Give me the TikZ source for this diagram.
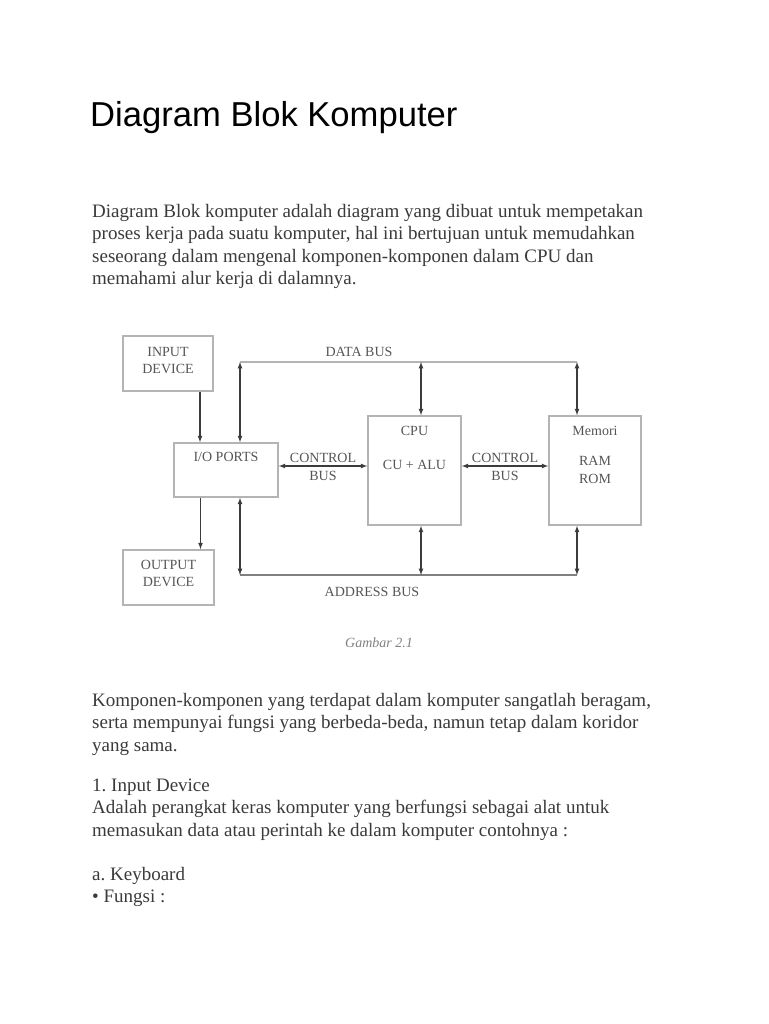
\documentclass[tikz,border=0pt]{standalone}
\usepackage{fontspec}
\setmainfont{Liberation Serif}
\newfontfamily\judulfont{Liberation Sans}
\usetikzlibrary{positioning}
\frenchspacing

\definecolor{boxgray}{HTML}{B4B4B4}
\definecolor{arrowgray}{HTML}{3C3C3C}
\definecolor{labelgray}{HTML}{555555}
\definecolor{textgray}{HTML}{3A3A3A}

\tikzset{
  blok/.style={draw=boxgray, line width=1.6pt, inner sep=0pt},
  lbl/.style={text=labelgray, font=\fontsize{14}{17.5}\selectfont, inner sep=0pt, align=center},
  databus/.style={draw=boxgray, line width=2pt},
  addrbus/.style={draw=gray, line width=1.4pt},
  tap/.style={<->, draw=arrowgray, line width=1.2pt},
  flow/.style={->, draw=arrowgray, line width=1.2pt},
  para/.style={anchor=base west, align=left, inner sep=0pt, text=textgray,
    font=\fontsize{19}{22.5}\selectfont},
}

\begin{document}
\begin{tikzpicture}[x=1pt,y=-1pt,>=latex]
	\useasboundingbox (0,0) rectangle (768,1024);
	% judul dan paragraf pembuka (base = baris terakhir)
	\node (judul) [anchor=base west, inner sep=0pt, font=\judulfont\fontsize{34.6}{40}\selectfont] at (90,126.7) {Diagram Blok Komputer};
	\node (p1) [para] at (92,284.5) {Diagram Blok komputer adalah diagram yang dibuat untuk mempetakan\\proses kerja pada suatu komputer, hal ini bertujuan untuk memudahkan\\seseorang dalam mengenal komponen-komponen dalam CPU dan\\memahami alur kerja di dalamnya.};
	% blok-blok
	\node (inp) [blok, minimum width=90pt, minimum height=55pt] at (168,363.5) {};
	\node (io) [blok, minimum width=104pt, minimum height=54pt] at (226,470) {};
	\node (out) [blok, minimum width=91pt, minimum height=55pt] at (168.5,577.5) {};
	\node (cpu) [blok, minimum width=93pt, minimum height=109pt] at (414.5,470.5) {};
	\node (mem) [blok, minimum width=92pt, minimum height=109pt] at (595,470.5) {};
	\node (inpT) [lbl] at ([yshift=3pt]inp.center) {INPUT\\DEVICE};
	\node (outT) [lbl] at ([yshift=4pt]out.center) {OUTPUT\\DEVICE};
	\node (ioT) [lbl, below=10pt of io.north] {I/O PORTS};
	\node (cpuT) [lbl, below=11pt of cpu.north] {CPU};
	\node (alu) [lbl, below=45pt of cpu.north] {CU + ALU};
	\node (memT) [lbl, below=11pt of mem.north] {Memori};
	\node (ram) [lbl, below=41pt of mem.north] {RAM\\ROM};
	% bus
	\coordinate (d1) at (240,362);
	\coordinate (d2) at (421,362);
	\coordinate (d3) at (577,362);
	\coordinate (a1) at (240,575);
	\coordinate (a2) at (421,575);
	\coordinate (a3) at (577,575);
	\draw[databus] (d1) -- (d3);
	\draw[addrbus] (a1) -- (a3);
	\node (dbus) [lbl] at (359,352) {DATA BUS};
	\node (abus) [lbl] at (372,592) {ADDRESS BUS};
	\draw[tap] (d1) -- (io.north -| d1);
	\draw[tap] (d2) -- (cpu.north -| d2);
	\draw[tap] (d3) -- (mem.north -| d3);
	\draw[tap] (io.south -| a1) -- (a1);
	\draw[tap] (cpu.south -| a2) -- (a2);
	\draw[tap] (mem.south -| a3) -- (a3);
	\draw[flow] ([xshift=32pt]inp.south) -- ([xshift=32pt]inp.south |- io.north);
	\draw[flow] ([xshift=32pt]out.north |- io.south) -- ([xshift=32pt]out.north);
	\draw[tap] ([yshift=4pt]io.east) -- node[lbl, yshift=-1pt] {CONTROL\\BUS} ([yshift=4pt]io.east -| cpu.west);
	\draw[tap] ([yshift=4.5pt]cpu.east) -- node[lbl, yshift=-1pt] {CONTROL\\BUS} ([yshift=4.5pt]cpu.east -| mem.west);
	\node (gbr) [text=gray, inner sep=0pt, font=\itshape\fontsize{14}{16}\selectfont] at (379,643) {Gambar 2.1};
	% paragraf bawah
	\node (p2) [para] at (92,751) {Komponen-komponen yang terdapat dalam komputer sangatlah beragam,\\serta mempunyai fungsi yang berbeda-beda, namun tetap dalam koridor\\yang sama.};
	\node (p3) [para] at (92,836) {1. Input Device\\Adalah perangkat keras komputer yang berfungsi sebagai alat untuk\\memasukan data atau perintah ke dalam komputer contohnya :};
	\node (p4) [para] at (92,902.5) {a. Keyboard\\• Fungsi :};
\end{tikzpicture}
\end{document}
